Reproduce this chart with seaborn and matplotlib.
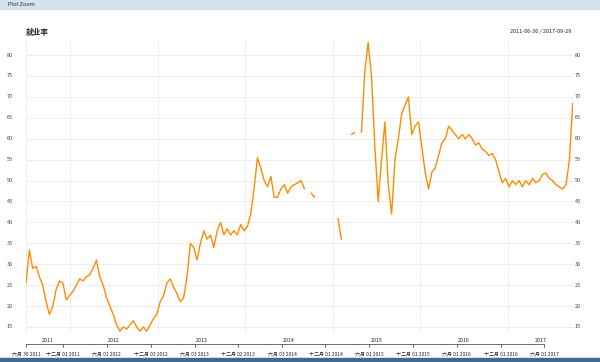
import matplotlib.dates as mdates
import matplotlib.pyplot as plt
import numpy as np
import pandas as pd
import seaborn as sns
from matplotlib.patches import Rectangle

# %%
title = "就业率"
start, end = "2011-06-30", "2017-09-29"

# one reading every 14 days (nan = no data)
values = [
    25.5, 33.4, 29, 29.5, 27, 25, 21, 18, 20, 24,
    26, 25.5, 21.5, 22.5, 23.5, 25, 26.5, 26, 27, 27.5,
    29, 31, 27, 25, 22, 20, 18, 15.5, 14, 15,
    14.5, 15.5, 16.5, 15, 14, 15, 14, 15.5, 17, 18,
    21, 22.5, 25.5, 26.5, 24.5, 23, 21, 22, 27, 35,
    34, 31, 35, 38, 36, 37, 34, 38, 40, 37,
    38.5, 37, 38, 37, 39.5, 38, 39, 42, 48, 55.5,
    53, 50, 48.5, 51, 46, 46, 48, 49, 47, 48.5,
    49, 49.5, 50, 48, np.nan, 47, 46, np.nan, np.nan, np.nan,
    np.nan, np.nan, np.nan, 41, 36, np.nan, np.nan, 61, 61.5, np.nan,
    61.5, 76, 83, 75, 58, 45, 55, 64, 49, 42,
    55, 60, 66, 68, 70, 61, 63, 64, 58, 52,
    48, 52, 53, 56, 59, 60, 63, 62, 61, 60,
    61, 60, 61, 60, 58.5, 59, 57.5, 57, 56, 56.5,
    55, 52, 49.5, 50.5, 48.5, 50, 49, 50, 48.5, 50,
    49, 50.5, 49.5, 50, 51.5, 51.8, 50.5, 50, 49, 48.5,
    48, 49, 55, 68.5,
]
dates = pd.date_range(start, periods=len(values), freq="14D")

y_ticks = list(range(15, 85, 5))
years = [2011, 2012, 2013, 2014, 2015, 2016, 2017]
axis_dates = ["2011-06-30", "2011-12-01", "2012-06-01", "2012-12-03",
              "2013-06-03", "2013-12-02", "2014-06-03", "2014-12-01",
              "2015-06-01", "2015-12-01", "2016-06-01", "2016-12-01",
              "2017-06-01"]
axis_labels = ["六月 30 2011", "十二月 01 2011", "六月 01 2012", "十二月 03 2012",
               "六月 03 2013", "十二月 02 2013", "六月 03 2014", "十二月 01 2014",
               "六月 01 2015", "十二月 01 2015", "六月 01 2016", "十二月 01 2016",
               "六月 01 2017"]

# %%
sns.set_style("white")
plt.rcParams["font.family"] = ["Noto Sans CJK SC", "DejaVu Sans"]

W, H = 600, 362
fig = plt.figure(figsize=(W / 100, H / 100), dpi=100)
ax = fig.add_axes([26 / W, 30 / H, 547 / W, 292 / H])

df = pd.DataFrame({"date": dates, "value": values})
# split into runs so gaps stay gaps
df["seg"] = df["value"].isna().cumsum()
df = df.dropna()
sns.lineplot(data=df, x="date", y="value", units="seg", estimator=None,
             color="#ff8c00", lw=1.0, ax=ax)

t0, t1 = pd.Timestamp(start), pd.Timestamp(end)
ax.set_xlim(t0, t1)
ax.set_ylim(13.8, 83.6)
ax.set_xlabel("")
ax.set_ylabel("")
for s in ax.spines.values():
    s.set_visible(False)

# grid
grid_c = "#eeeeee"
for v in y_ticks:
    ax.axhline(v, color=grid_c, lw=0.7, zorder=0)
for yr in years[1:]:
    ax.axvline(pd.Timestamp(f"{yr}-01-01"), color=grid_c, lw=0.7, zorder=0)
ax.axvline(t0, color=grid_c, lw=0.7, zorder=0)
ax.axvline(t1, color=grid_c, lw=0.7, zorder=0)
ax.set_xticks([])
ax.set_yticks([])

# y labels on both sides
ytr = ax.get_yaxis_transform()
for v in y_ticks:
    ax.text(-16 / 547, v, str(v), transform=ytr, ha="center", va="center",
            fontsize=4, color="#444444")
    ax.text(1 + 5 / 547, v, str(v), transform=ytr, ha="center", va="center",
            fontsize=4, color="#444444")

# time axis below the plot
xtr = ax.get_xaxis_transform()
px = 1 / 292
ax_y = -12 * px
tick_x = mdates.date2num(pd.to_datetime(axis_dates))
ax.plot([tick_x[0], tick_x[-1]], [ax_y, ax_y], transform=xtr, color="#555555",
        lw=0.6, clip_on=False)
for tx, lab in zip(tick_x, axis_labels):
    ax.plot([tx, tx], [ax_y, ax_y - 3 * px], transform=xtr, color="#555555",
            lw=0.6, clip_on=False)
    ax.text(tx, ax_y - 10 * px, lab, transform=xtr, ha="center", va="center",
            fontsize=3.6, color="#222222")
for yr in years:
    a = max(t0, pd.Timestamp(f"{yr}-01-01"))
    b = min(t1, pd.Timestamp(f"{yr}-12-31"))
    mid = mdates.date2num(a + (b - a) / 2)
    ax.text(mid, ax_y + 3 * px, str(yr), transform=xtr, ha="center",
            va="center", fontsize=3.8, color="#222222")

# titles
fig.text(26 / W, 1 - 32 / H, title, fontsize=5.5, fontweight="bold",
         va="center", color="#222222")
fig.text(571 / W, 1 - 32 / H, f"{start} / {end}", fontsize=4, ha="right",
         va="center", color="#222222")

# window chrome of the screenshot
fig.patches.append(Rectangle((0, 1 - 9 / H), 1, 9 / H, transform=fig.transFigure,
                             color="#d5e1ee", zorder=-1))
fig.text(8 / W, 1 - 4.5 / H, "Plot Zoom", fontsize=4, va="center", color="#222222")
fig.patches.append(Rectangle((0, 0), 1, 4 / H, transform=fig.transFigure,
                             color="#3d6a96", zorder=-1))

fig.savefig("out.png", dpi=100)
